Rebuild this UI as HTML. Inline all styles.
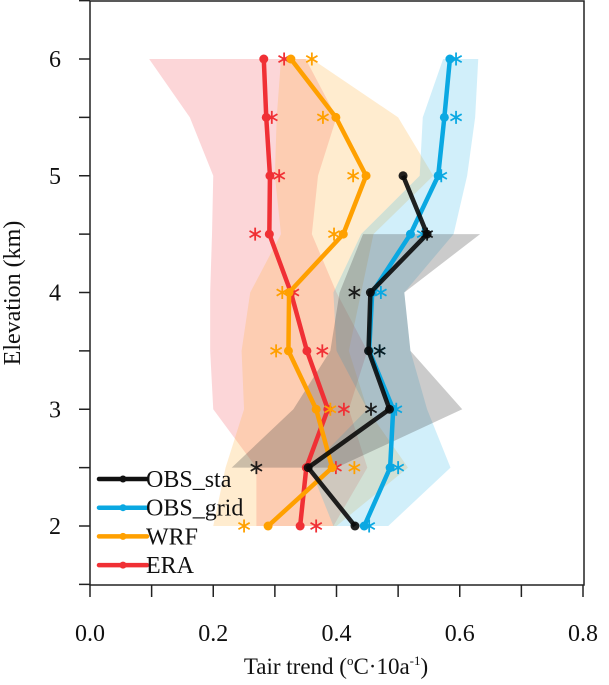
<!DOCTYPE html>
<html><head><meta charset="utf-8">
<style>
html,body{margin:0;padding:0;background:#fff;}
svg{display:block;}
text{font-family:"Liberation Serif","DejaVu Serif",serif;}
</style></head>
<body>
<svg id="chart" width="609" height="685" viewBox="0 0 609 685" xmlns="http://www.w3.org/2000/svg">
<g id="bands"></g>
<g id="lines"></g>
<g id="axes"></g>
<g id="legend"></g>
</svg>
<script>
const levels = [2, 2.5, 3, 3.5, 4, 4.5, 5, 5.5, 6];
const xTicks = [0, 0.1, 0.2, 0.3, 0.4, 0.5, 0.6, 0.7, 0.8];
const xTickLabels = ["0.0", "", "0.2", "", "0.4", "", "0.6", "", "0.8"];
const yTicks = [1.5, 2, 2.5, 3, 3.5, 4, 4.5, 5, 5.5, 6, 6.5];
const yTickLabels = ["", "2", "", "3", "", "4", "", "5", "", "6", ""];

const eraLine = [0.341, 0.351, 0.386, 0.352, 0.326, 0.291, 0.292, 0.286, 0.282];
const eraStar = [0.367, 0.399, 0.412, 0.377, 0.330, 0.268, 0.307, 0.295, 0.315];
const eraLo = [0.27, 0.27, 0.20, 0.195, 0.195, 0.198, 0.20, 0.162, 0.096];
const eraHi = [0.395, 0.45, 0.42, 0.45, 0.40, 0.36, 0.37, 0.40, 0.35];

const wrfLine = [0.289, 0.393, 0.367, 0.322, 0.323, 0.411, 0.448, 0.399, 0.326];
const wrfStar = [0.250, 0.429, 0.390, 0.302, 0.312, 0.396, 0.427, 0.378, 0.360];
const wrfLo = [0.20, 0.22, 0.25, 0.246, 0.26, 0.31, 0.30, 0.303, 0.31];
const wrfHi = [0.40, 0.516, 0.45, 0.42, 0.44, 0.46, 0.557, 0.50, 0.36];

const gridLine = [0.445, 0.487, 0.492, 0.453, 0.458, 0.520, 0.565, 0.575, 0.584];
const gridStar = [0.453, 0.500, 0.497, 0.470, 0.472, 0.540, 0.570, 0.594, 0.594];
const gridLo = [0.395, 0.357, 0.45, 0.40, 0.395, 0.44, 0.535, 0.54, 0.573];
const gridHi = [0.484, 0.585, 0.547, 0.52, 0.51, 0.59, 0.612, 0.625, 0.63];

const staLevels = [2, 2.5, 3, 3.5, 4, 4.5, 5];
const staLine = [0.430, 0.354, 0.486, 0.452, 0.455, 0.547, 0.508];
const staStarLevels = [2.5, 3, 3.5, 4, 4.5];
const staStar = [0.270, 0.456, 0.470, 0.429, 0.547];
const staBandLevels = [2.5, 3, 3.5, 4, 4.5];
const staLo = [0.23, 0.33, 0.39, 0.405, 0.443];
const staHi = [0.40, 0.604, 0.52, 0.51, 0.633];

const X0 = 90, XS = 616.25, Y0 = 526, YS = 116.75;
function xs(v){ return X0 + v * XS; }
function ys(e){ return Y0 - (e - 2) * YS; }
const NS = "http://www.w3.org/2000/svg";
const FF = '"Liberation Serif", "DejaVu Serif", serif';
function mk(tag, attrs, parent){
  const el = document.createElementNS(NS, tag);
  for (const k in attrs) el.setAttribute(k, attrs[k]);
  if (tag === 'text' || tag === 'tspan') el.style.fontFamily = FF;
  parent.appendChild(el);
  return el;
}
const bands = document.getElementById('bands');
const lines = document.getElementById('lines');
const axes = document.getElementById('axes');
const legend = document.getElementById('legend');

function band(lv, lo, hi, color, op, name){
  let pts = [];
  for (let i = 0; i < lv.length; i++) pts.push(xs(lo[i]) + ',' + ys(lv[i]));
  for (let i = lv.length - 1; i >= 0; i--) pts.push(xs(hi[i]) + ',' + ys(lv[i]));
  const p = mk('polygon', {points: pts.join(' '), fill: color, 'fill-opacity': op}, bands);
  
  
}
band(levels, eraLo, eraHi, '#f55a64', 0.25, 'era-range-band');
band(levels, wrfLo, wrfHi, '#ffb340', 0.25, 'wrf-range-band');
band(levels, gridLo, gridHi, '#2cb4e8', 0.22, 'obs-grid-range-band');
band(staBandLevels, staLo, staHi, '#444', 0.28, 'obs-sta-range-band');

function star(cx, cy, color, parent){
  const r = 6.5;
  let d = '';
  for (let a = 0; a < 3; a++){
    const ang = Math.PI / 2 + a * Math.PI / 3;
    const dx = r * Math.cos(ang), dy = r * Math.sin(ang);
    d += 'M' + (cx - dx) + ',' + (cy - dy) + 'L' + (cx + dx) + ',' + (cy + dy);
  }
  return mk('path', {d: d, stroke: color, 'stroke-width': 1.8, fill: 'none'}, parent);
}
function series(lv, vals, slv, svals, color, name){
  const g = mk('g', {}, lines);
  
  
  const pts = lv.map((e, i) => xs(vals[i]) + ',' + ys(e)).join(' ');
  const pl = mk('polyline', {points: pts, fill: 'none', stroke: color, 'stroke-width': 4.5, 'stroke-linejoin': 'round'}, g);
  
  
  lv.forEach((e, i) => {
    const c = mk('circle', {cx: xs(vals[i]), cy: ys(e), r: 4.5, fill: color}, g);
    
    
  });
  slv.forEach((e, i) => {
    const s = star(xs(svals[i]), ys(e), color, g);
    
    
  });
}
series(levels, eraLine, levels, eraStar, '#f03035', 'era');
series(levels, wrfLine, levels, wrfStar, '#ffa000', 'wrf');
series(levels, gridLine, levels, gridStar, '#0aa8e2', 'obs-grid');
series(staLevels, staLine, staStarLevels, staStar, 'rgba(10,10,10,0.9)', 'obs-sta');

const fr = mk('rect', {x: 90, y: 1, width: 494, height: 584, fill: 'none', stroke: '#222', 'stroke-width': 1.5}, axes);


xTicks.forEach((v, i) => {
  const t = mk('line', {x1: xs(v), x2: xs(v), y1: 585, y2: 597, stroke: '#222', 'stroke-width': 1.5}, axes);
  
  
  if (xTickLabels[i]) {
    const tx = mk('text', {x: xs(v), y: 641, 'text-anchor': 'middle', 'font-size': 24, fill: '#111'}, axes);
    tx.textContent = xTickLabels[i];
    
    
  }
});
yTicks.forEach((e, i) => {
  const t = mk('line', {x1: 79, x2: 90, y1: ys(e), y2: ys(e), stroke: '#222', 'stroke-width': 1.5}, axes);
  
  
  if (yTickLabels[i]) {
    const tx = mk('text', {x: 55, y: ys(e) + 8, 'text-anchor': 'middle', 'font-size': 24, fill: '#111'}, axes);
    tx.textContent = yTickLabels[i];
    
    
  }
});
const xt = mk('text', {x: 336, y: 674, 'text-anchor': 'middle', 'font-size': 23, fill: '#111'}, axes);


[['Tair trend (', 23, 0], ['o', 13, -9], ['C·10a', 23, 9], ['-1', 13, -9], [')', 23, 9]].forEach(p => {
  const ts = mk('tspan', {'font-size': p[1], dy: p[2]}, xt);
  ts.textContent = p[0];
});
const yt = mk('text', {x: 0, y: 0, 'text-anchor': 'middle', 'font-size': 24, fill: '#111', transform: 'translate(20,293) rotate(-90)'}, axes);
yt.textContent = 'Elevation (km)';



const legNames = ['OBS_sta', 'OBS_grid', 'WRF', 'ERA'];
const legColors = ['#111', '#0aa8e2', '#ffa000', '#f03035'];
legNames.forEach((n, i) => {
  const y = 479 + i * 28.7;
  const g = mk('g', {}, legend);
  
  
  mk('line', {x1: 99, x2: 147, y1: y, y2: y, stroke: legColors[i], 'stroke-width': 4.5, 'stroke-linecap': 'round'}, g);
  mk('circle', {cx: 123, cy: y, r: 3.5, fill: legColors[i]}, g);
  const t = mk('text', {x: 146, y: y + 8, 'font-size': 24, fill: '#111'}, g);
  t.textContent = n;
});
</script>
</body></html>
